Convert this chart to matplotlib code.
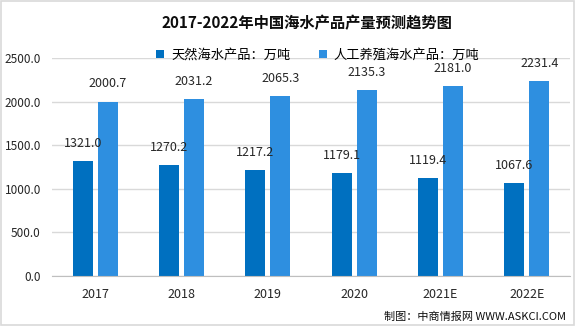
import numpy as np
import matplotlib.pyplot as plt
from matplotlib.patches import Rectangle

plt.rcParams['font.family'] = ['Noto Sans CJK SC', 'DejaVu Sans']

years = ['2017', '2018', '2019', '2020', '2021E', '2022E']
natural = [1321.0, 1270.2, 1217.2, 1179.1, 1119.4, 1067.6]
farmed = [2000.7, 2031.2, 2065.3, 2135.3, 2181.0, 2231.4]
yticks = [0, 500, 1000, 1500, 2000, 2500]

c_dark = '#0070C0'
c_light = '#2E8FE0'

fig = plt.figure(figsize=[5.76, 3.26], dpi=100)
fig.patch.set_facecolor('white')
fig.add_artist(Rectangle((0.002, 0.003), 0.995, 0.994, transform=fig.transFigure,
                         fill=False, edgecolor='#D9D9D9', linewidth=1.2))

ax = fig.add_axes([52 / 576, 1 - 276 / 326, 518 / 576, 218 / 326])
x = np.arange(len(years))
w = 0.23
off = 0.145
b1 = ax.bar(x - off, natural, w, color=c_dark, label='天然海水产品：万吨', zorder=2)
b2 = ax.bar(x + off, farmed, w, color=c_light, label='人工养殖海水产品：万吨', zorder=2)

for bars in (b1, b2):
    for rect in bars:
        h = rect.get_height()
        ax.annotate('%.1f' % h, (rect.get_x() + rect.get_width() / 2, h),
                    xytext=(0, 8), textcoords='offset points',
                    ha='center', va='bottom', fontsize=9, color='#262626')

ax.set_xlim(-0.5, len(years) - 0.5)
ax.set_ylim(0, 2500)
ax.set_yticks(yticks)
ax.set_yticklabels(['%.1f' % v for v in yticks])
ax.set_xticks(x)
ax.set_xticklabels(years)
ax.tick_params(axis='both', length=0, labelsize=9, colors='#262626')
ax.tick_params(axis='y', pad=8, labelsize=8.5)
ax.tick_params(axis='x', pad=9)
ax.grid(axis='y', color='#D9D9D9', linewidth=1, zorder=0)
for s in ['top', 'right', 'left']:
    ax.spines[s].set_visible(False)
ax.spines['bottom'].set_color('#BFBFBF')

fig.text(307 / 576, 1 - 23 / 326, '2017-2022年中国海水产品产量预测趋势图',
         ha='center', va='center', fontsize=11, fontweight='bold', color='#0D0D0D')

fig.legend(handles=[b1, b2], loc='center', bbox_to_anchor=(318 / 576, 1 - 55 / 326),
           ncol=2, frameon=False, fontsize=9.5, handlelength=0.6, handleheight=0.6,
           columnspacing=2.2, handletextpad=0.5)

fig.text(566 / 576, 1 - 317 / 326, '制图：中商情报网 WWW.ASKCI.COM',
         ha='right', va='center', fontsize=8, color='#0D0D0D')

plt.savefig('out.png', format='png', dpi=100)
